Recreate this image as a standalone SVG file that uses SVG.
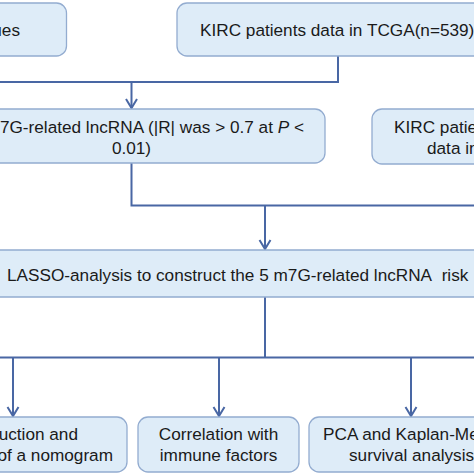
<svg xmlns="http://www.w3.org/2000/svg" width="474" height="474" viewBox="0 0 474 474">
<defs>
<style>
.box{fill:#deecf8;stroke:#93acd0;stroke-width:1.3}
.t{font-family:"Liberation Sans",Arial,sans-serif;font-size:17.2px;fill:#1a1a1a}
.c{fill:none;stroke:#4967a4;stroke-width:2}
</style>
<marker id="ar" markerUnits="userSpaceOnUse" markerWidth="14" markerHeight="14" viewBox="-12 -7 14 14" refX="0" refY="0" orient="auto">
<path d="M-9,-5.5 L0,0 L-9,5.5" fill="none" stroke="#4967a4" stroke-width="2"/>
</marker>
</defs>
<rect width="474" height="474" fill="#ffffff"/>
<g id="connectors">
<path class="c" d="M338 56 V82 H-5"/>
<path class="c" d="M131.5 82 V108" marker-end="url(#ar)"/>
<path class="c" d="M131.5 163 V205.5 H480"/>
<path class="c" d="M265 205.5 V249" marker-end="url(#ar)"/>
<path class="c" d="M265 297 V357.5"/>
<path class="c" d="M-5 357.5 H480"/>
<path class="c" d="M13 357.5 V416" marker-end="url(#ar)"/>
<path class="c" d="M219 357.5 V416" marker-end="url(#ar)"/>
<path class="c" d="M411 357.5 V416" marker-end="url(#ar)"/>
</g>
<g id="n1">
<rect class="box" x="-60" y="3" width="126.5" height="53" rx="10"/>
<text class="t" x="20" y="36" text-anchor="end">ues</text>
</g>
<g id="n2">
<rect class="box" x="177" y="3" width="340" height="53" rx="10"/>
<text class="t" x="200" y="36">KIRC patients data in TCGA(n=539)</text>
</g>
<g id="n3">
<rect class="box" x="-63" y="109" width="388" height="54" rx="10"/>
<text class="t" x="304" y="133" text-anchor="end">m7G-related lncRNA (|R| was &gt; 0.7 at <tspan font-style="italic">P</tspan> &lt;</text>
<text class="t" x="131.5" y="154" text-anchor="middle">0.01)</text>
</g>
<g id="n4">
<rect class="box" x="372" y="109" width="170" height="55" rx="10"/>
<text class="t" x="394" y="133">KIRC patients</text>
<text class="t" x="427" y="154">data in</text>
</g>
<g id="n5">
<rect class="box" x="-20" y="250" width="520" height="47" rx="4"/>
<text class="t" x="7" y="281" xml:space="preserve">LASSO-analysis to construct the 5 m7G-related lncRNA&#160; risk</text>
</g>
<g id="n6">
<rect class="box" x="-80" y="417" width="207" height="55" rx="10"/>
<text class="t" x="78" y="440" text-anchor="end">Construction and</text>
<text class="t" x="113" y="461" text-anchor="end">validation of a nomogram</text>
</g>
<g id="n7">
<rect class="box" x="138" y="417" width="161" height="55" rx="10"/>
<text class="t" x="218.5" y="440" text-anchor="middle">Correlation with</text>
<text class="t" x="218.5" y="461" text-anchor="middle">immune factors</text>
</g>
<g id="n8">
<rect class="box" x="309" y="417" width="211" height="55" rx="10"/>
<text class="t" x="323" y="440">PCA and Kaplan-Meier</text>
<text class="t" x="349" y="461">survival analysis</text>
</g>
</svg>
